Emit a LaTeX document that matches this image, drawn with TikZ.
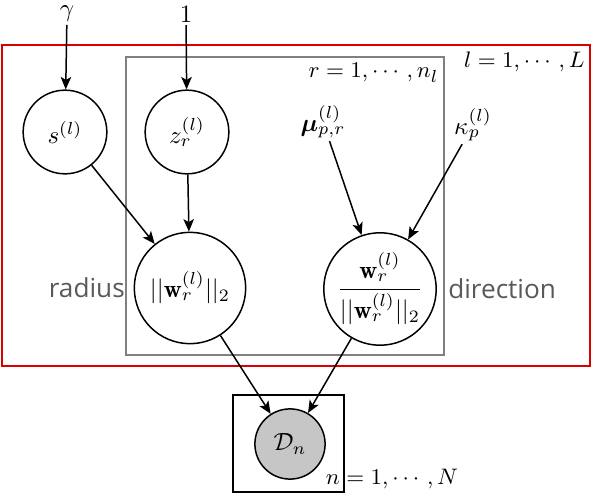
\documentclass[tikz,border=0pt]{standalone}
\usepackage{amsmath,amssymb,amsfonts,bm}
\usepackage{fontspec}
\setsansfont{Open Sans}
\usetikzlibrary{shapes,arrows,arrows.meta,calc,positioning,backgrounds}

\begin{document}
\begin{tikzpicture}[x=0.0141cm,y=-0.0141cm,
  var/.style={draw,circle,line width=0.6pt,inner sep=0pt},
  small/.style={var,minimum size=1.18cm},
  big/.style={var,minimum size=1.57cm},
  obs/.style={var,fill=gray!45,minimum size=0.99cm},
  hyper/.style={inner sep=1pt},
  side/.style={text=black!65,font=\sffamily\fontsize{10.5}{12}\selectfont},
  plate/.style={inner sep=2pt,font=\fontsize{9.5}{11}\selectfont},
  edge/.style={-{Stealth[length=5pt,width=4.2pt,inset=1.2pt]},line width=0.6pt}]

        \useasboundingbox (0,0) rectangle (592,495);

        % plates
        \draw[red!85!black,line width=0.6pt] (2,45) rectangle (590,366);
        \draw[black!50,line width=0.6pt] (126,57) rectangle (444,355);
        \draw[line width=0.6pt] (233,395) rectangle (344,492);

        \node[hyper] (g) at (67,14) {$\gamma$};
        \node[hyper] (one) at (186,14) {$1$};
        \node[small] (s) at (65,132) {$s^{(l)}$};
        \node[small] (z) at (187,132) {$z_r^{(l)}$};
        \node[hyper] (mu) at (323,122) {$\bm{\mu}_{p,r}^{(l)}$};
        \node[hyper] (ka) at (473,125) {$\kappa_p^{(l)}$};

        \node[big] (rad) at (190,288) {$||\mathbf{w}_r^{(l)}||_2$};
        \node[big] (dir) at (380,289) {$\dfrac{\mathbf{w}_r^{(l)}}{||\mathbf{w}_r^{(l)}||_2}$};
        \node[obs] (D) at (290,444) {$\mathcal{D}_n$};

        \node[side,left=0pt of rad] (rl) {radius};
        \node[side,right=1pt of dir] (dl) {direction};

        \node[plate,anchor=north east] (L) at (590,46) {$l=1,\cdots,L$};
        \node[plate,anchor=north east] (R) at (444,58) {$r=1,\cdots,n_l$};
        \node[plate,anchor=south west,inner sep=1pt] (N) at (323,492) {$n=1,\cdots,N$};

        \draw[edge] (g) -- (s);
        \draw[edge] (one) -- (z);
        \draw[edge] (s) -- (rad);
        \draw[edge] (z) -- (rad);
        \draw[edge] (mu) -- (dir);
        \draw[edge] (ka) -- (dir);
        \draw[edge] (rad) -- (D);
        \draw[edge] (dir) -- (D);
      \end{tikzpicture}
\end{document}
